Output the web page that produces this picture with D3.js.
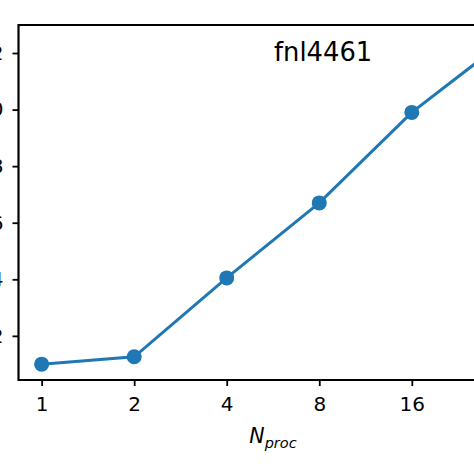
<!DOCTYPE html>
<html><head><meta charset="utf-8">
<script src="https://cdn.jsdelivr.net/npm/d3@7"></script>
<style>html,body{margin:0;padding:0;background:#fff;overflow:hidden}svg{display:block;font-family:"DejaVu Sans",sans-serif}</style>
</head><body>
<script>
const procs = [1, 2, 4, 8, 16, 32];
const speedup = [1.0, 1.26, 4.05, 6.7, 9.9, 12.42];
const xTicks = [1, 2, 4, 8, 16, 32];
const yTicks = [2, 4, 6, 8, 10, 12];
const title = "fnl4461";

(function () {
const W = 474, H = 474;
const svg = d3.select("body").append("svg").attr("width", W).attr("height", H);
const mLeft = 18.5, mTop = 25, mBottom = 380, mRight = 527.5;

const x = d3.scaleLog().base(2).domain([Math.pow(2, -0.25), Math.pow(2, 5.25)]).range([mLeft, mRight]);
const y = d3.scaleLinear().domain([0.44, 12.99]).range([mBottom, mTop]);

const xa = svg.append("g").attr("transform", `translate(0,${mBottom})`)
  .call(d3.axisBottom(x).tickValues(xTicks).tickFormat(d3.format("d")).tickSize(6).tickPadding(6));
const ya = svg.append("g").attr("transform", `translate(${mLeft},0)`)
  .call(d3.axisLeft(y).tickValues(yTicks).tickFormat(d3.format("d")).tickSize(6).tickPadding(9));
[xa, ya].forEach(g => {
  g.select(".domain").remove();
  g.selectAll(".tick line").attr("stroke", "#000").attr("stroke-width", 1.8);
  g.selectAll(".tick text").attr("fill", "#000").style("font-size", "20px").style("font-family", "DejaVu Sans");
});
xa.selectAll(".tick text").attr("dy", "0.95em");

svg.append("path").attr("d", `M${mRight},${mTop}H${mLeft}V${mBottom}H${mRight}`)
  .attr("fill", "none").attr("stroke", "#000").attr("stroke-width", 2.2);

const data = procs.map((p, i) => ({p, v: speedup[i]}));
svg.append("path").datum(data)
  .attr("d", d3.line().x(d => x(d.p)).y(d => y(d.v)))
  .attr("fill", "none").attr("stroke", "#1f77b4").attr("stroke-width", 3);
svg.selectAll("circle").data(data).join("circle")
  .attr("cx", d => x(d.p)).attr("cy", d => y(d.v)).attr("r", 7.5).attr("fill", "#1f77b4");

svg.append("text").attr("x", 274).attr("y", 61).style("font-size", "25.8px").attr("fill", "#000").text(title);

const xl = svg.append("text").attr("x", (mLeft + mRight) / 2).attr("y", 443).attr("text-anchor", "middle")
  .style("font-size", "20.5px").attr("fill", "#000");
xl.append("tspan").style("font-style", "italic").text("N");
xl.append("tspan").style("font-style", "italic").style("font-size", "14.5px").attr("dy", 5).text("proc");
})();
</script>
</body></html>
